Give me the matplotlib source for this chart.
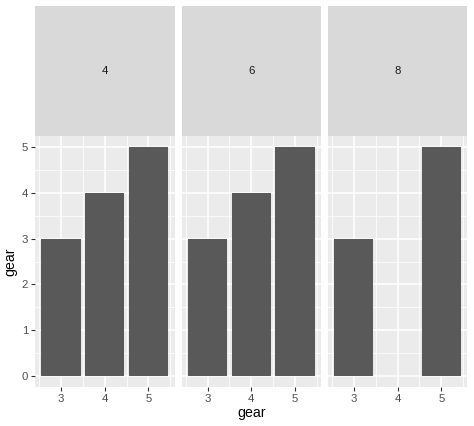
import matplotlib
matplotlib.use("Agg")
import matplotlib.pyplot as plt

facets = ["4", "6", "8"]
gears = {"4": [3, 4, 5], "6": [3, 4, 5], "8": [3, 5]}
heights = {"4": [3, 4, 5], "6": [3, 4, 5], "8": [3, 5]}
x_ticks = [3, 4, 5]
y_ticks = [0, 1, 2, 3, 4, 5]

plt.rcParams['font.family'] = ['Liberation Sans', 'DejaVu Sans']
W, H = 474, 426
fig = plt.figure(figsize=(W / 100, H / 100), dpi=100)
fig.patch.set_facecolor("white")

lefts = [35.0, 181.5, 327.8]
pw = 139.5
p_top, p_bot = 136.0, 387.3
s_top = 5.7

for i, f in enumerate(facets):
    l = lefts[i] / W
    ax = fig.add_axes([l, 1 - p_bot / H, pw / W, (p_bot - p_top) / H])
    ax.set_facecolor("#EBEBEB")
    ax.set_xlim(2.405, 5.595)
    ax.set_ylim(-0.25, 5.25)
    ax.set_xticks(x_ticks)
    ax.set_yticks(y_ticks)
    ax.set_xticks([2.5, 3.5, 4.5, 5.5], minor=True)
    ax.set_yticks([0.5, 1.5, 2.5, 3.5, 4.5], minor=True)
    ax.grid(which="major", color="white", linewidth=1.1)
    ax.grid(which="minor", color="white", linewidth=0.55)
    ax.set_axisbelow(True)
    for s in ax.spines.values():
        s.set_visible(False)
    ax.bar(gears[f], heights[f], width=0.9, color="#595959", zorder=3)
    ax.tick_params(which="major", length=2.7, width=0.8, color="#333333",
                   labelcolor="#4D4D4D", labelsize=8.2, pad=2.2)
    ax.tick_params(which="minor", length=0)
    if i > 0:
        ax.tick_params(axis="y", which="both", left=False, labelleft=False)
    # strip
    sax = fig.add_axes([l, 1 - p_top / H, pw / W, (p_top - s_top) / H])
    sax.set_facecolor("#D9D9D9")
    sax.set_xticks([])
    sax.set_yticks([])
    for s in sax.spines.values():
        s.set_visible(False)
    sax.text(0.5, 0.5, f, ha="center", va="center", fontsize=8.2,
             color="#1A1A1A", transform=sax.transAxes)

fig.text((lefts[0] + lefts[2] + pw) / 2 / W, 1 - 413 / H, "gear",
         ha="center", va="center", fontsize=10.2, color="black")
fig.text(10 / W, 1 - (p_top + p_bot) / 2 / H, "gear", ha="center",
         va="center", rotation=90, fontsize=10.2, color="black")

fig.savefig("out.png", dpi=100)
